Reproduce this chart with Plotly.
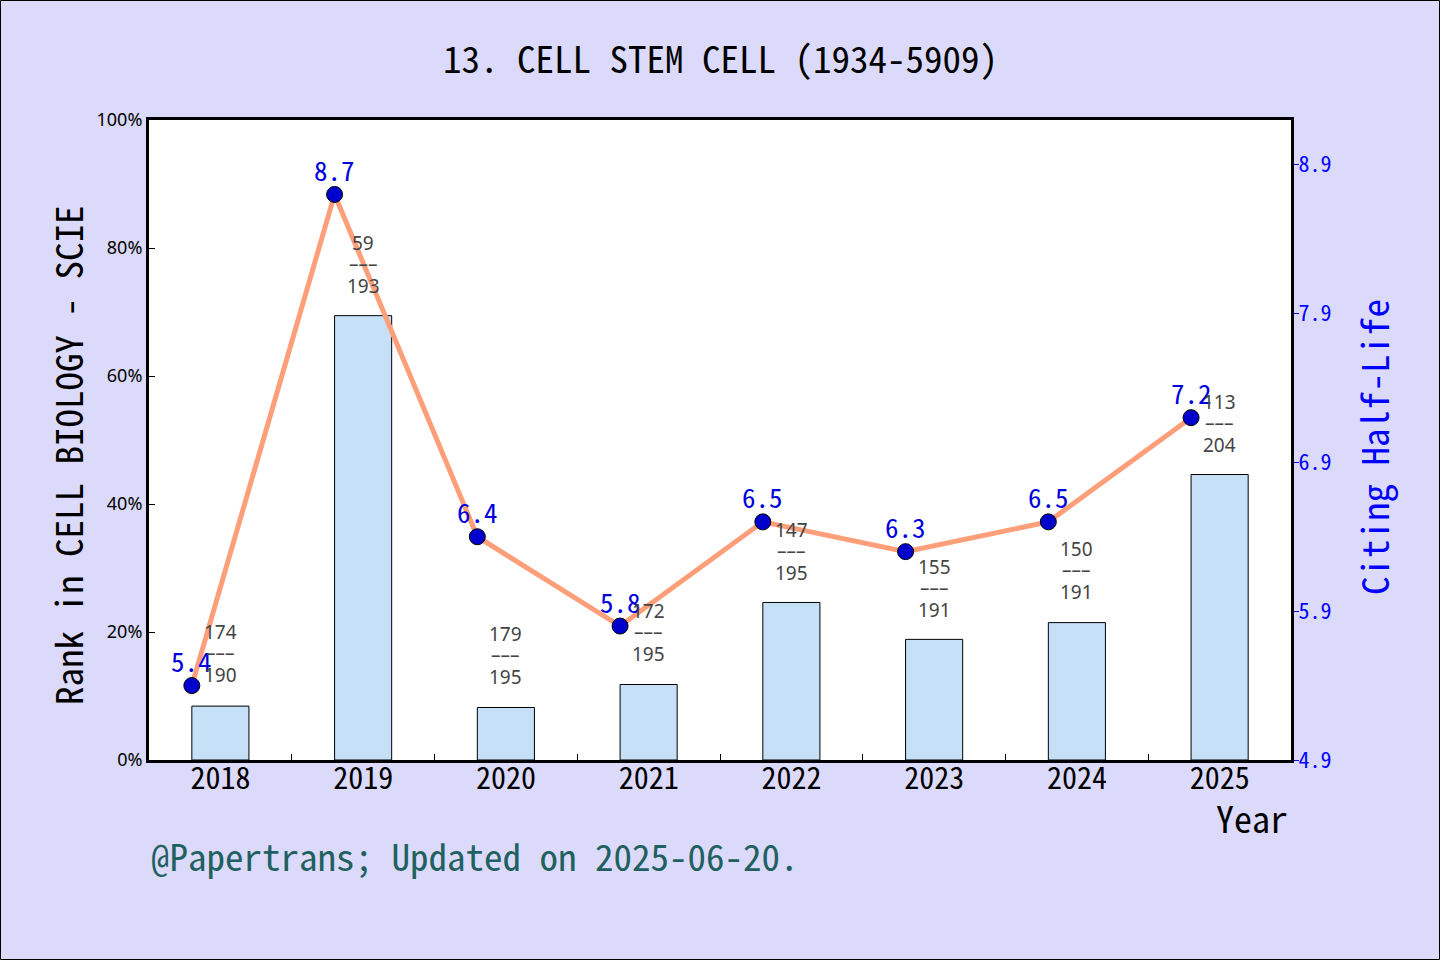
import plotly.graph_objects as go

# ===== data =====
years = ["2018", "2019", "2020", "2021", "2022", "2023", "2024", "2025"]
rank = [174, 59, 179, 172, 147, 155, 150, 113]
total = [190, 193, 195, 195, 195, 191, 191, 204]
half_life = [5.4, 8.7, 6.4, 5.8, 6.5, 6.3, 6.5, 7.2]

# where the rank labels sit (fraction of left axis)
label_y = [0.167, 0.775, 0.164, 0.20, 0.327, 0.269, 0.297, 0.527]

pct = [1 - r / t for r, t in zip(rank, total)]
xs = list(range(len(years)))
x_line = [x - 0.2 for x in xs]

MONO = "Noto Sans Mono CJK SC, DejaVu Sans Mono, monospace"
SANS = "Noto Sans, Noto Sans CJK SC, sans-serif"

# plot area in px
L, R, T, B = 149, 1291, 120, 760
W, H = 1440, 960
pw, ph = R - L, B - T


def px_x(p):
    return (p - L) / pw


def px_y(p):
    return (B - p) / ph


fig = go.Figure()

fig.add_trace(
    go.Bar(
        x=xs, y=pct,
        width=0.4,
        marker=dict(color="#C6E0F7", line=dict(color="black", width=1)),
        showlegend=False,
        hoverinfo="skip",
    )
)

fig.add_trace(
    go.Scatter(
        x=x_line, y=half_life,
        yaxis="y2",
        mode="lines+markers",
        line=dict(color="#FF9F7A", width=5),
        marker=dict(color="#0000CD", size=16, line=dict(color="black", width=1)),
        showlegend=False,
    )
)

annotations = []
for x, v in zip(x_line, half_life):
    annotations.append(dict(
        x=x, y=v, xref="x", yref="y2", text=f"{v}", showarrow=False,
        yshift=25, font=dict(family=MONO, size=27, color="#0000DD"),
    ))
# rank / total labels, three lines each
for x, r, t, ly in zip(xs, rank, total, label_y):
    for txt, dy in ((str(r), 21), ("–––", 0), (str(t), -22)):
        annotations.append(dict(
            x=x, y=ly, xref="x", yref="y", text=txt, showarrow=False, yshift=dy,
            font=dict(family=SANS, size=19, color="#444444"),
        ))

annotations += [
    dict(x=px_x(67), y=px_y(455), xref="paper", yref="paper", text="Rank in CELL BIOLOGY - SCIE",
         textangle=-90, showarrow=False, xanchor="center", yanchor="middle",
         font=dict(family=MONO, size=37, color="black")),
    dict(x=px_x(1373), y=px_y(447), xref="paper", yref="paper", text="Citing Half-Life",
         textangle=-90, showarrow=False, xanchor="center", yanchor="middle",
         font=dict(family=MONO, size=37, color="#0000FF")),
    dict(x=px_x(1290), y=px_y(817), xref="paper", yref="paper", text="Year",
         xanchor="right", yanchor="middle",
         showarrow=False, font=dict(family=MONO, size=36, color="black")),
    dict(x=px_x(149), y=px_y(855), xref="paper", yref="paper", text="@Papertrans; Updated on 2025-06-20.",
         xanchor="left", yanchor="middle",
         showarrow=False, font=dict(family=MONO, size=37, color="#1F6060")),
    dict(x=0.5, y=px_y(57), xref="paper", yref="paper", text="13. CELL STEM CELL (1934-5909)",
         xanchor="center", yanchor="middle",
         showarrow=False, font=dict(family=MONO, size=37, color="black")),
]

fig.update_layout(
    width=W, height=H,
    margin=dict(l=L, r=W - R, t=T, b=H - B),
    paper_bgcolor="#DCDAFA",
    plot_bgcolor="white",
    annotations=annotations,
    xaxis=dict(
        range=[-0.5, 7.5],
        tickmode="array", tickvals=xs, ticktext=years,
        showgrid=False, zeroline=False,
        showline=True, linecolor="black", linewidth=3, mirror=True,
        ticks="", ticklabelstandoff=-10,
        tickfont=dict(family=MONO, size=30, color="black"),
    ),
    xaxis2=dict(
        overlaying="x", range=[-0.5, 7.5], tickmode="array",
        tickvals=[x + 0.5 for x in xs[:-1]], ticktext=[""] * (len(xs) - 1),
        ticks="inside", ticklen=6, tickcolor="black", showgrid=False, zeroline=False,
        showline=False, side="bottom", anchor="y",
    ),
    yaxis=dict(
        range=[0, 1], tickformat=".0%", dtick=0.2,
        showgrid=False, zeroline=False,
        showline=True, linecolor="black", linewidth=3,
        ticks="inside", ticklen=6, tickcolor="black",
        tickfont=dict(family=SANS, size=18, color="black"),
    ),
    yaxis2=dict(
        overlaying="y", side="right", range=[4.9, 9.2],
        tickmode="array", tickvals=[4.9, 5.9, 6.9, 7.9, 8.9],
        ticktext=["4.9", "5.9", "6.9", "7.9", "8.9"],
        showgrid=False, zeroline=False,
        showline=True, linecolor="black", linewidth=3,
        ticks="outside", ticklen=5, tickcolor="#0000FF", ticklabelstandoff=-5,
        tickfont=dict(family=MONO, size=22, color="#0000FF"),
    ),
    shapes=[dict(
        type="rect", xref="paper", yref="paper",
        x0=px_x(0.5), x1=px_x(W - 0.5), y0=px_y(H - 0.5), y1=px_y(0.5),
        line=dict(color="black", width=1), layer="below",
    )],
)

# dummy trace to draw the category separator ticks
fig.add_trace(go.Scatter(x=[None], y=[None], xaxis="x2", showlegend=False))

fig.write_html(
    "out.html",
    config={"displayModeBar": False},
    post_script="document.body.style.margin='0';",
)
